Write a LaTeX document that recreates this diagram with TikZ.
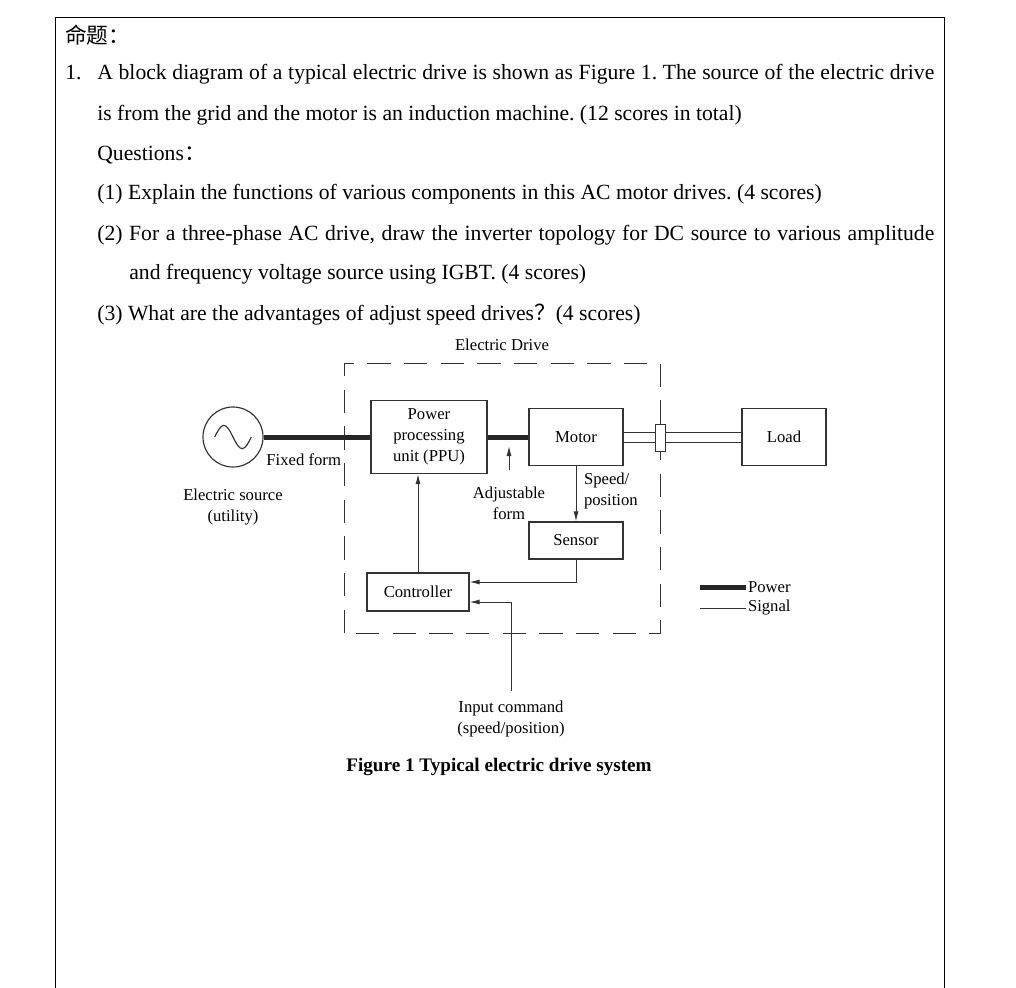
\documentclass[tikz,border=0pt]{standalone}
\usepackage{fontspec}
\setmainfont{Liberation Serif}
\newfontfamily\cjk{Noto Sans CJK SC}
\usetikzlibrary{arrows.meta, positioning}
\tikzset{
  blk/.style={rectangle, draw=black!80, line width=0.7pt, fill=white,
              align=center, inner sep=2pt, font=\fontsize{10}{12.6}\selectfont},
  lbl/.style={align=center, inner sep=1pt, font=\fontsize{10}{12.6}\selectfont},
  qtxt/.style={anchor=base west, inner sep=0pt, font=\fontsize{13}{15}\selectfont},
  pwr/.style={line width=3pt, black!85},
  sig/.style={line width=0.6pt, black!80},
  sigarr/.style={sig, -{Latex[length=6pt,width=3pt]}},
  drivebox/.style={dash pattern=on 14pt off 8pt, line width=0.6pt, black!80},
}
\frenchspacing
\begin{document}
\begin{tikzpicture}[x=0.6pt, y=-0.6pt]
    \useasboundingbox (0,0) rectangle (1016,988);

    % page frame
    \draw[line width=0.6pt] (55,988) -- (55,18) -- (944,18) -- (944,988);

    % question text
    \node[qtxt] (hdr) at (65,44) {\cjk 命题：};
    \node[qtxt] (n1)  at (65,80) {1.};
    \node[qtxt] (l1)  at (97,80) {\makebox[502.2pt][s]{A block diagram of a typical electric drive is shown as Figure 1. The source of the electric drive}};
    \node[qtxt] (l2)  at (97,120) {is from the grid and the motor is an induction machine. (12 scores in total)};
    \node[qtxt] (l3)  at (97,160) {Questions{\cjk ：}};
    \node[qtxt] (q1)  at (97,200) {(1) Explain the functions of various components in this AC motor drives. (4 scores)};
    \node[qtxt] (q2)  at (97,240) {\makebox[502.2pt][s]{(2) For a three-phase AC drive, draw the inverter topology for DC source to various amplitude}};
    \node[qtxt] (q2b) at (129,279) {and frequency voltage source using IGBT. (4 scores)};
    \node[qtxt] (q3)  at (97,320) {(3) What are the advantages of adjust speed drives{\cjk ？}(4 scores)};

    % electric drive boundary
    \node[lbl] (edrv) at (502,345) {Electric Drive};
    \draw[drivebox] (344,633) rectangle (660,363);

    % blocks
    \node[circle, draw=black!80, line width=0.7pt, minimum size=36pt] (src) at (233,437) {};
    \node[blk, minimum width=69.6pt, minimum height=43.8pt] (ppu)    at (429,437) {Power\\processing\\unit (PPU)};
    \node[blk, minimum width=56.4pt, minimum height=34.2pt] (motor)  at (576,437) {Motor};
    \node[blk, minimum width=50.4pt, minimum height=34.2pt] (load)   at (784,437) {Load};
    \node[blk, minimum width=56.4pt, minimum height=22.2pt] (sensor) at (576,540.5) {Sensor};
    \node[blk, minimum width=61.2pt, minimum height=22.8pt] (ctrl)   at (418,592) {Controller};

    \draw[sig, line width=0.7pt] ([xshift=-11pt]src.center) sin ++(5.5pt,7pt) cos ++(5.5pt,-7pt)
        sin ++(5.5pt,-7pt) cos ++(5.5pt,7pt);

    % labels
    \node[lbl] (srclbl) at (233,507) {Electric source\\(utility)};
    \node[lbl, anchor=east] (fixlbl) at (343,460) {Fixed form};
    \node[lbl] (adjlbl) at (509,503) {Adjustable\\form};
    \node[lbl, anchor=west, align=left] (spdlbl) at (582,491) {Speed/\\position};
    \node[lbl] (incmd) at (511,719) {Input command\\(speed/position)};

    % power path
    \draw[pwr] (src.east) -- (ppu.west);
    \draw[pwr] (ppu.east) -- (motor.west);
    \coordinate (adjtip) at (509,446);
    \draw[sigarr] ([yshift=9pt]adjlbl.north) -- (adjlbl.north |- adjtip);

    % shaft and coupling
    \draw[sig] ([yshift=3pt]motor.east) -- ([yshift=3pt]load.west);
    \draw[sig] ([yshift=-3pt]motor.east) -- ([yshift=-3pt]load.west);
    \node[draw=black!80, line width=0.6pt, fill=white, inner sep=0pt,
          minimum width=6pt, minimum height=16.2pt] (cpl) at (660,437.5) {};

    % signal path
    \draw[sigarr] (motor) -- (sensor);
    \draw[sigarr] (sensor.south) |- ([yshift=6pt]ctrl.east);
    \draw[sigarr] ([yshift=5pt]incmd.north) |- ([yshift=-6pt]ctrl.east);
    \draw[sigarr] (ctrl.north) -- (ctrl.north |- ppu.south);

    % legend
    \coordinate (pw0) at (700,587);
    \coordinate (sg0) at (700,608);
    \node[lbl, anchor=west] (pwlbl) at (746,587) {Power};
    \node[lbl, anchor=west] (sglbl) at (746,608) {Signal};
    \draw[pwr] (pw0) -- (pwlbl.west);
    \draw[sig] (sg0) -- (sglbl.west);

    % caption
    \node[font=\bfseries\fontsize{11.5}{13}\selectfont] (cap) at (499,767) {Figure 1 Typical electric drive system};
\end{tikzpicture}
\end{document}
